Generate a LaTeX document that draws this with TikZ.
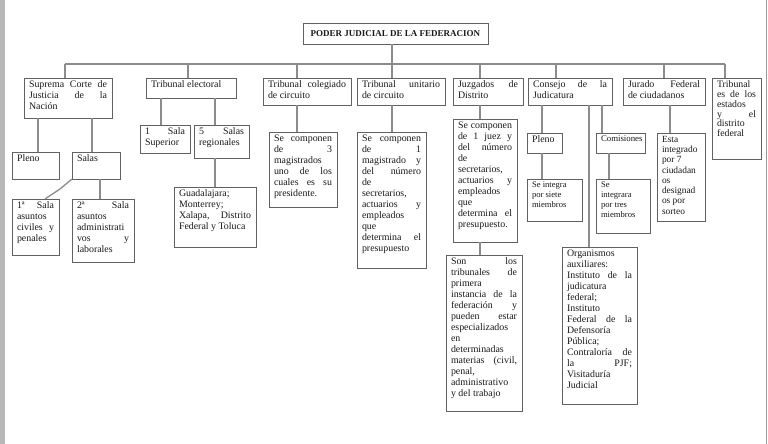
\documentclass[tikz,border=0pt]{standalone}
\usepackage{fontspec}
\setmainfont{Liberation Serif}
\usetikzlibrary{shadows}
\newcommand\fs{\fontsize{9.9}{11}\selectfont}
\newcommand\fsm{\fontsize{9.8}{9.8}\selectfont}
\newcommand\fss{\fontsize{8.6}{10}\selectfont\raggedright}
\tikzset{
  box/.style={draw=black!62, line width=0.8pt, fill=white,
    drop shadow={shadow xshift=0.9pt, shadow yshift=-0.9pt, fill=black!40, opacity=1},
    inner xsep=5pt, inner ysep=3pt, outer sep=0pt, text=black!90},
  link/.style={draw=black!45, line width=1.3pt},
}
\newcommand\bx[7][\fs]{\node[box,anchor=north west] (#2) at (#3,#4)
  {\parbox[c][\dimexpr #6pt-6pt\relax][t]{\dimexpr #5pt-10pt\relax}{#1\tolerance=10000\hbadness=10000\hfuzz=10pt\hyphenpenalty=10000\exhyphenpenalty=10000 #7}};}
\begin{document}
\begin{tikzpicture}[x=1pt,y=-1pt]
\useasboundingbox (0,0) rectangle (768,444);
\fill[black!28] (0,0) rectangle (4.5,444);
\draw[black!40, line width=1pt] (766.5,0) -- (766.5,444);
% top
\node[box, anchor=north west, inner sep=0pt, minimum width=185pt, minimum height=21pt,
  font=\bfseries\fontsize{9}{11}\selectfont] (top) at (303,23) {PODER JUDICIAL DE LA FEDERACION};
% level 1
\bx{sc}{24}{78}{88}{40}{Suprema Corte de\linebreak Justicia de la\linebreak Nación}
\bx{te}{146}{78}{90}{20}{Tribunal electoral}
\bx{tcol}{263}{78}{88}{27}{Tribunal colegiado\linebreak de circuito}
\bx{tuni}{357}{78}{88}{27}{Tribunal unitario\linebreak de circuito}
\bx{juz}{453}{78}{70}{27}{Juzgados de\linebreak Distrito}
\bx{cons}{528}{78}{84}{27}{Consejo de la\linebreak Judicatura}
\bx{jur}{623}{78}{82}{27}{Jurado Federal\linebreak de ciudadanos}
\bx[\fsm]{tre}{712}{78}{49}{81}{Tribunal\linebreak es de los\linebreak estados\linebreak y el\linebreak distrito\linebreak federal}
% level 2
\bx{pl1}{12}{152}{47}{27}{Pleno}
\bx{salas}{72}{152}{48}{27}{Salas}
\bx{s1}{12}{199}{47}{56}{1ª Sala\linebreak asuntos\linebreak civiles y\linebreak penales}
\bx{s2}{72}{199}{62}{63}{2ª Sala\linebreak asuntos\linebreak administrati\linebreak vos y\linebreak laborales}
\bx{ss}{140}{125}{50}{28}{1 Sala\linebreak Superior}
\bx{sr}{194}{125}{55}{33}{5 Salas\linebreak regionales}
\bx{gdl}{174}{187}{82}{60}{Guadalajara;\linebreak Monterrey;\linebreak Xalapa, Distrito\linebreak Federal y Toluca}
\bx{tc}{269}{132}{68}{75}{Se componen\linebreak de 3\linebreak magistrados\linebreak uno de los\linebreak cuales es su\linebreak presidente.}
\bx{tu}{357}{132}{69}{136}{Se componen\linebreak de 1\linebreak magistrado y\linebreak del número\linebreak de\linebreak secretarios,\linebreak actuarios y\linebreak empleados\linebreak que\linebreak determina el\linebreak presupuesto}
\bx{jz}{453}{119}{64}{123}{Se componen\linebreak de 1 juez y\linebreak del número\linebreak de\linebreak secretarios,\linebreak actuarios y\linebreak empleados\linebreak que\linebreak determina el\linebreak presupuesto.}
\bx{son}{446}{255}{76}{156}{Son los\linebreak tribunales de\linebreak primera\linebreak instancia de la\linebreak federación y\linebreak pueden estar\linebreak especializados\linebreak en\linebreak determinadas\linebreak materias (civil,\linebreak penal,\linebreak administrativo\linebreak y del trabajo}
\bx{cp}{527}{133}{35}{20}{Pleno}
\bx[\fss]{cpi}{527}{179}{55}{42}{Se integra\linebreak por siete\linebreak miembros}
\bx[\fontsize{8.8}{10}\selectfont]{com}{596}{133}{49}{20}{Comisiones}
\bx[\fss]{cti}{596}{179}{54}{54}{Se\linebreak integrara\linebreak por tres\linebreak miembros}
\bx{org}{562}{247}{75}{157}{Organismos\linebreak auxiliares:\linebreak Instituto de la\linebreak judicatura\linebreak federal;\linebreak Instituto\linebreak Federal de la\linebreak Defensoría\linebreak Pública;\linebreak Contraloría de\linebreak la PJF;\linebreak Visitaduría\linebreak Judicial}
\bx[\fontsize{9.4}{10.3}\selectfont\raggedright]{jc}{657}{133}{48}{88}{Esta\linebreak integrado\linebreak por 7\linebreak ciudadan\linebreak os\linebreak designad\linebreak os por\linebreak sorteo}
% connectors
\coordinate (busL) at (65,64);
\coordinate (busR) at (725,64);
\coordinate (stem) at (392,64);
\draw[link] (busL) -- (busR);
\draw[link] (stem) -- (stem |- top.south);
\foreach \x/\n in {65/sc,188/te,297/tcol,392/tuni,480/juz,556/cons,664/jur,725/tre}{
  \coordinate (d\n) at (\x,64);
  \draw[link] (d\n) -- (d\n |- \n.north);
}
\foreach \x/\a/\b [count=\i] in {38/sc/pl1, 92/sc/salas, 100/salas/s2, 161/te/ss, 215/te/sr, 215/sr/gdl,
  297/tcol/tc, 392/tuni/tu, 480/juz/jz, 480/jz/son, 542/cons/cp, 542/cp/cpi, 602/cons/com,
  609/com/cti, 589/cons/org, 670/jur/jc}{
  \coordinate (c\i) at (\x,0);
  \draw[link] (\a.south -| c\i) -- (\b.north -| c\i);
}
\coordinate (bend) at (60,189);
\coordinate (s1top) at (45,199);
\draw[link] (salas.south west) -- (bend) -- (s1top);
\end{tikzpicture}
\end{document}
